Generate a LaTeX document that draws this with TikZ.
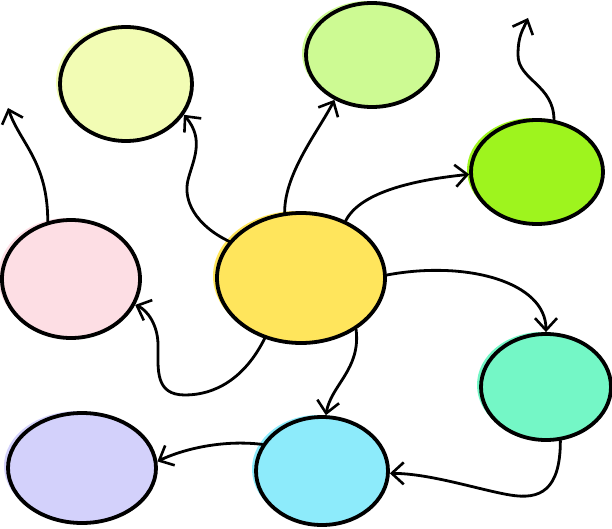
\documentclass[tikz,border=0pt]{standalone}
\usepackage{tikz}
\usetikzlibrary{arrows.meta,shapes.geometric}
\definecolor{lemonfill}{HTML}{F2FCB4}
\definecolor{limefill}{HTML}{CDFA93}
\definecolor{greenfill}{HTML}{9EF41E}
\definecolor{rosefill}{HTML}{FDDEE4}
\definecolor{mainfill}{HTML}{FFE55C}
\definecolor{mintfill}{HTML}{74F7C6}
\definecolor{skyfill}{HTML}{8DEBFB}
\definecolor{lilacfill}{HTML}{D3D1FB}

\begin{document}
\begin{tikzpicture}[x=1pt,y=-1pt,line cap=round,
  blob/.style={ellipse,draw=black,line width=3.8pt,inner sep=0pt,fill=#1,
    preaction={fill=#1,transform canvas={shift={(-4pt,2pt)}}}},
  link/.style={line width=2.8pt,-{Straight Barb[length=12pt,width=22pt,line width=2.6pt]}}]
\useasboundingbox (0,0) rectangle (612,529);
\node[blob=lemonfill,minimum width=132pt,minimum height=114pt] (lemon) at (126,84) {};
\node[blob=limefill,minimum width=132pt,minimum height=104pt] (lime) at (372,55) {};
\node[blob=greenfill,minimum width=132pt,minimum height=104pt] (green) at (537,172) {};
\node[blob=rosefill,minimum width=138pt,minimum height=118pt] (rose) at (71,279) {};
\node[blob=mainfill,minimum width=168pt,minimum height=130pt] (main) at (301,278) {};
\node[blob=mintfill,minimum width=130pt,minimum height=106pt] (mint) at (546,387) {};
\node[blob=skyfill,minimum width=132pt,minimum height=108pt] (sky) at (322,471) {};
\node[blob=lilacfill,minimum width=148pt,minimum height=110pt] (lilac) at (82,468) {};
\coordinate (roseout) at (8,108);
\coordinate (greenout) at (528,18);
\draw[link] (rose.112) .. controls +(0,-60) and +(12,35) .. (roseout);
\draw[link] (main.153) .. controls (195,225) and (183,200) .. (188,180) .. controls (193,160) and (205,140) .. (lemon.-28);
\draw[link] (main.104) .. controls +(0,-40) and +(-15,30) .. (lime.-130);
\draw[link] (main.52) .. controls +(15,-30) and +(-50,5) .. (green.182);
\draw[link] (green.72) .. controls +(0,-35) and +(0,25) .. (518,55) .. controls +(0,-20) and +(-5,12) .. (greenout);
\draw[link] (main.2) .. controls +(80,-15) and +(0,-50) .. (mint.90);
\draw[link] (main.-43) .. controls +(5,40) and +(5,-30) .. (sky.86);
\draw[link] (main.-121) .. controls +(-20,40) and +(30,0) .. (185,395) .. controls +(-30,0) and +(0,25) .. (158,345) .. controls +(0,-20) and +(12,5) .. (rose.-22);
\draw[link] (mint.-75) .. controls +(0,50) and +(30,5) .. (510,495) .. controls +(-30,-5) and +(40,0) .. (sky.-2);
\draw[link] (sky.156) .. controls +(-40,-5) and +(25,-12) .. (lilac.5);
\end{tikzpicture}
\end{document}
